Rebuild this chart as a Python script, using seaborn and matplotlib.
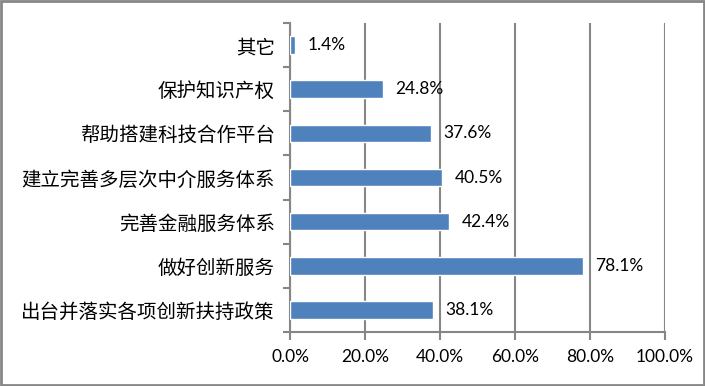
import matplotlib
matplotlib.use("Agg")
import matplotlib.pyplot as plt
import seaborn as sns
import pandas as pd
from matplotlib.patches import Rectangle
from matplotlib.ticker import FixedLocator

categories = ["其它", "保护知识产权", "帮助搭建科技合作平台", "建立完善多层次中介服务体系",
              "完善金融服务体系", "做好创新服务", "出台并落实各项创新扶持政策"]
values = [1.4, 24.8, 37.6, 40.5, 42.4, 78.1, 38.1]
xticks = [0, 20, 40, 60, 80, 100]
xtick_labels = ["0.0%", "20.0%", "40.0%", "60.0%", "80.0%", "100.0%"]

sns.set_theme(style="white")
plt.rcParams['font.family'] = ['Noto Sans CJK SC', 'DejaVu Sans']

GRAY = "#868686"
BAR = "#4F81BD"

df = pd.DataFrame({"cat": categories, "val": values})

fig = plt.figure(figsize=(7.05, 3.86), dpi=100)
ax = fig.add_axes([290/705, 1-332/386, 375/705, 309/386])

sns.barplot(data=df, x="val", y="cat", orient="h", color=BAR, width=0.4,
            saturation=1, ax=ax, zorder=3)

ax.set_xlim(0, 100)
ax.set_ylim(len(categories) - 0.5, -0.5)
ax.set_xlabel("")
ax.set_ylabel("")

ax.set_xticks(xticks)
ax.set_xticklabels(xtick_labels, family=['Lato', 'DejaVu Sans'], fontsize=12.5, color="black")
for lbl in ax.get_yticklabels():
    lbl.set_fontsize(14)
    lbl.set_color("black")

ax.grid(axis="x", color=GRAY, linewidth=1.5, zorder=0)
ax.grid(axis="y", visible=False)
ax.set_axisbelow(True)

for side in ["top", "right"]:
    ax.spines[side].set_visible(False)
for side in ["left", "bottom"]:
    ax.spines[side].set_color(GRAY)
    ax.spines[side].set_linewidth(1.5)

ax.tick_params(axis="x", which="major", direction="out", length=5.5, width=1.5,
               color=GRAY, pad=7, bottom=True)
ax.tick_params(axis="y", which="major", length=0, pad=11, left=True)
ax.yaxis.set_minor_locator(FixedLocator([i - 0.5 for i in range(len(categories) + 1)]))
ax.tick_params(axis="y", which="minor", direction="out", length=5, width=1.5,
               color=GRAY, left=True)

for c in ax.containers:
    ax.bar_label(c, labels=[f"{v:.1f}%" for v in values], padding=9,
                 fontsize=12.5, family=['Lato', 'DejaVu Sans'], color="black")

fig.patches.append(Rectangle((0.0015, 0.0025), 0.997, 0.995, transform=fig.transFigure,
                             fill=False, edgecolor=GRAY, linewidth=2))

fig.savefig("out.png", dpi=100)
